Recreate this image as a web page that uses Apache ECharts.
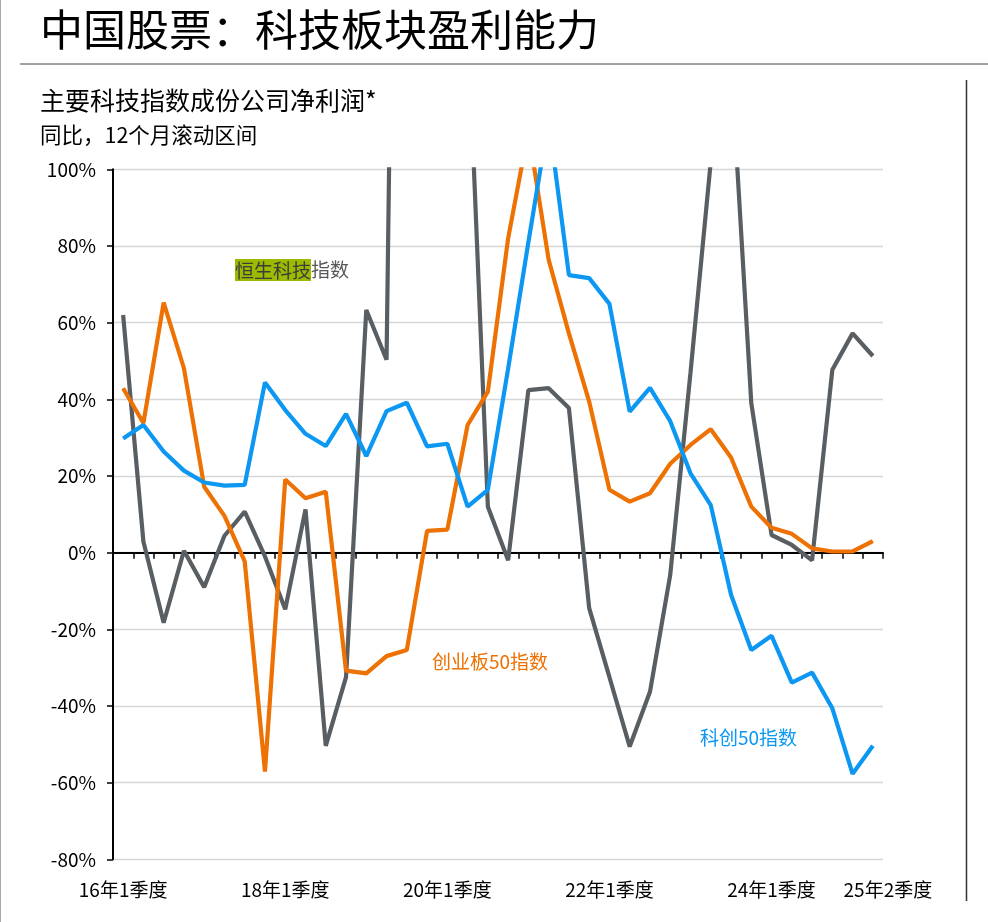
<!DOCTYPE html>
<html>
<head>
<meta charset="utf-8">
<script src="https://cdn.jsdelivr.net/npm/echarts@6/dist/echarts.min.js"></script>
<style>
html,body{margin:0;padding:0;background:#fff;}
#chart{width:988px;height:922px;}
</style>
</head>
<body>
<div id="chart"></div>
<script>
const categories = [
  '16年1季度','16年2季度','16年3季度','16年4季度',
  '17年1季度','17年2季度','17年3季度','17年4季度',
  '18年1季度','18年2季度','18年3季度','18年4季度',
  '19年1季度','19年2季度','19年3季度','19年4季度',
  '20年1季度','20年2季度','20年3季度','20年4季度',
  '21年1季度','21年2季度','21年3季度','21年4季度',
  '22年1季度','22年2季度','22年3季度','22年4季度',
  '23年1季度','23年2季度','23年3季度','23年4季度',
  '24年1季度','24年2季度','24年3季度','24年4季度',
  '25年1季度','25年2季度'
];
const xTickLabels = ['16年1季度','18年1季度','20年1季度','22年1季度','24年1季度','25年2季度'];

// 恒生科技指数
const hstech = [62.0, 2.9, -18.3, 0.5, -9.0, 4.4, 10.7, -1.0, -14.8, 11.3, -50.4, -32.5,
  63.3, 50.3, 450, 400, 300, 140, 12.0, -2.0, 42.4, 42.9, 37.7, -14.5, -32.5, -50.6,
  -36.3, -5.8, 47, 102, 128, 39.0, 4.6, 2.0, -2.0, 47.7, 57.2, 51.3];
// 创业板50指数
const chinext50 = [42.9, 33.8, 65.2, 48.1, 17.2, 9.6, -2.3, -57.1, 19.1, 14.2, 15.9, -30.8,
  -31.5, -27.0, -25.4, 5.7, 6.0, 33.3, 42.0, 82.0, 110, 76.4, 57.2, 39.4, 16.4, 13.3,
  15.5, 23.2, 28.1, 32.2, 24.8, 12.0, 6.5, 4.9, 1.1, 0.3, 0.3, 3.0];
// 科创50指数
const star50 = [29.8, 33.3, 26.4, 21.4, 18.3, 17.5, 17.7, 44.4, 37.2, 31.0, 27.8, 36.2,
  25.2, 36.9, 39.1, 27.7, 28.4, 12.0, 16.4, 48, 81, 113, 72.4, 71.6, 64.9, 36.8,
  43.0, 34.3, 20.7, 12.4, -11.0, -25.4, -21.7, -33.9, -31.3, -40.6, -57.7, -50.4];

const yMin = -80, yMax = 100, yStep = 20;

const FONT = '"Noto Sans CJK SC", "Noto Sans", sans-serif';
const C_GREY = '#595E62', C_ORANGE = '#EE7203', C_BLUE = '#0C97F3';

const chart = echarts.init(document.getElementById('chart'), null, {renderer: 'canvas'});
const lastLabel = xTickLabels[xTickLabels.length - 1];

chart.setOption({
  animation: false,
  backgroundColor: '#fff',
  textStyle: {fontFamily: FONT},
  grid: {left: 113, right: 105, top: 169.3, bottom: 62.7, containLabel: false},
  xAxis: [{
    type: 'category', data: categories, boundaryGap: true, position: 'bottom',
    axisLine: {show: false, onZero: false},
    axisTick: {show: false},
    splitLine: {show: false},
    axisLabel: {
      interval: function (i, v) { return xTickLabels.indexOf(v) >= 0; },
      color: '#000', fontSize: 19, fontFamily: FONT, margin: 21,
      formatter: function (v) { return v === lastLabel ? '{last|' + v + '}' : v; },
      rich: {last: {fontSize: 19, fontFamily: FONT, color: '#000', padding: [0, 0, 0, 30]}}
    }
  }, {
    type: 'category', data: categories, boundaryGap: true, position: 'bottom',
    axisLine: {show: true, onZero: true, onZeroAxisIndex: 0, lineStyle: {color: '#000', width: 2}},
    axisTick: {show: true, interval: 0, length: 6, lineStyle: {color: '#000', width: 1.5}},
    axisLabel: {show: false},
    splitLine: {show: false}
  }],
  yAxis: {
    type: 'value', min: yMin, max: yMax, interval: yStep,
    axisLine: {show: true, lineStyle: {color: '#000', width: 2}},
    axisTick: {show: true, length: 6, lineStyle: {color: '#000', width: 1.5}},
    axisLabel: {formatter: '{value}%', color: '#000', fontSize: 19, fontFamily: FONT, margin: 17},
    splitLine: {show: true, lineStyle: {color: '#D6D6D6', width: 1.3}}
  },
  series: [
    {name: '恒生科技指数', type: 'line', data: hstech, symbol: 'none', clip: true,
     lineStyle: {color: C_GREY, width: 4.2}, z: 2},
    {name: '创业板50指数', type: 'line', data: chinext50, symbol: 'none', clip: true,
     lineStyle: {color: C_ORANGE, width: 4.2}, z: 3},
    {name: '科创50指数', type: 'line', data: star50, symbol: 'none', clip: true,
     lineStyle: {color: C_BLUE, width: 4.2}, z: 4}
  ],
  graphic: [
    {type: 'line', shape: {x1: 0.5, y1: 0, x2: 0.5, y2: 922}, style: {stroke: '#AAAAAA', lineWidth: 1}, silent: true},
    {type: 'text', x: 40, y: 30, style: {text: '中国股票：科技板块盈利能力', fontSize: 43, fontFamily: FONT, fill: '#000', verticalAlign: 'middle'}},
    {type: 'line', shape: {x1: 20, y1: 64, x2: 988, y2: 64}, style: {stroke: '#444', lineWidth: 1}, silent: true},
    {type: 'line', shape: {x1: 966.5, y1: 80, x2: 966.5, y2: 901}, style: {stroke: '#333', lineWidth: 1.5}, silent: true},
    {type: 'text', x: 40, y: 100, style: {text: '主要科技指数成份公司净利润*', fontSize: 25, fontFamily: FONT, fill: '#000', verticalAlign: 'middle'}},
    {type: 'text', x: 40, y: 135, style: {text: '同比，12个月滚动区间', fontSize: 21.5, fontFamily: FONT, fill: '#000', verticalAlign: 'middle'}},
    {type: 'text', x: 235, y: 270, style: {
      text: '{hl|恒生科技}{n|指数}', verticalAlign: 'middle',
      rich: {
        hl: {fontSize: 19, fontFamily: FONT, fill: '#3C3C3C', backgroundColor: '#9CBB00', padding: [2, 0, 1, 0]},
        n: {fontSize: 19, fontFamily: FONT, fill: '#595959'}
      }}},
    {type: 'text', x: 432, y: 662, style: {text: '创业板50指数', fontSize: 19, fontFamily: FONT, fill: C_ORANGE, verticalAlign: 'middle'}},
    {type: 'text', x: 700, y: 738, style: {text: '科创50指数', fontSize: 19, fontFamily: FONT, fill: C_BLUE, verticalAlign: 'middle'}}
  ]
});
</script>
</body>
</html>
